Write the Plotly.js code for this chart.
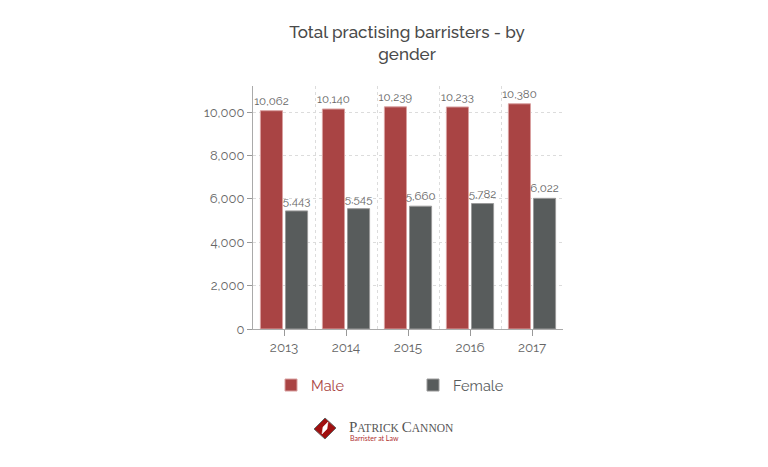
<!DOCTYPE html>
<html>
<head>
<meta charset="utf-8">
<script src="https://cdn.plot.ly/plotly-3.0.1.min.js"></script>
<style>html,body{margin:0;padding:0;background:#fff;}#chart{width:768px;height:467px;}</style>
</head>
<body>
<div id="chart"></div>
<script>
const years = ['2013', '2014', '2015', '2016', '2017'];
const male = [10062, 10140, 10239, 10233, 10380];
const female = [5443, 5545, 5660, 5782, 6022];
const yTicks = [0, 2000, 4000, 6000, 8000, 10000];
const boundaries = [0.5, 1.5, 2.5, 3.5, 4.5];

const FONT = 'Raleway, Lato, "Open Sans", sans-serif';
const MALE_C = '#a94444';
const FEMALE_C = '#585c5c';

const fmt = v => v.toLocaleString('en-US');

// plot area in pixels (for placing the logo)
const PL = 253, PR = 563, PT = 86, PB = 329;
const px = x => (x - PL) / (PR - PL);
const py = y => (PB - y) / (PB - PT);
const pathFrom = pts => pts.map((p, i) => (i ? 'L ' : 'M ') + px(p[0]).toFixed(4) + ' ' + py(p[1]).toFixed(4)).join(' ') + ' Z';

const traces = [
  {
    type: 'bar', x: years, y: male,
    name: '<span style="color:' + MALE_C + '">Male</span>',
    marker: {color: MALE_C, line: {color: '#d9a0a0', width: 1}},
    text: male.map(fmt), textposition: 'outside', cliponaxis: false, constraintext: 'none',
    textfont: {family: FONT, size: 11.5, color: '#666'},
    hoverinfo: 'none', legend: 'legend'
  },
  {
    type: 'bar', x: years, y: female,
    name: '<span style="color:' + FEMALE_C + '">Female</span>',
    marker: {color: FEMALE_C, line: {color: '#9a9a9a', width: 1}},
    text: female.map(fmt), textposition: 'outside', cliponaxis: false, constraintext: 'none',
    textfont: {family: FONT, size: 11.5, color: '#666'},
    hoverinfo: 'none', legend: 'legend2'
  },
  {
    type: 'scatter', x: [0], y: [0], xaxis: 'x2', mode: 'markers',
    marker: {opacity: 0}, showlegend: false, hoverinfo: 'none'
  }
];

const legendBase = {
  orientation: 'h', xanchor: 'left', y: -0.165, yanchor: 'top',
  font: {family: FONT, size: 14.5},
  bgcolor: 'rgba(0,0,0,0)',
  itemclick: false, itemdoubleclick: false
};

const layout = {
  width: 768, height: 467,
  margin: {l: PL, r: 768 - PR, t: PT, b: 467 - PB},
  paper_bgcolor: '#fff', plot_bgcolor: '#fff',
  font: {family: FONT, color: '#666'},
  title: {
    text: 'Total practising barristers - by<br>gender',
    font: {family: FONT, size: 17, color: '#4a4a4a', weight: 500},
    x: 0.53, xanchor: 'center', y: 0.918, yanchor: 'top'
  },
  bargap: 0.19, bargroupgap: 0.12, barmode: 'group',
  xaxis: {
    type: 'category', showgrid: false,
    showline: true, linecolor: '#aaa', linewidth: 1,
    ticks: 'outside', ticklen: 6, tickcolor: '#999',
    tickfont: {family: FONT, size: 13.5, color: '#666'},
    zeroline: false, fixedrange: true
  },
  xaxis2: {
    overlaying: 'x', range: [-0.5, 4.5], tickvals: boundaries,
    showgrid: true, gridcolor: '#dcdcdc', griddash: 'dot', gridwidth: 1,
    showticklabels: false, ticks: '', showline: false, zeroline: false
  },
  yaxis: {
    range: [0, 11200], tickvals: yTicks, ticktext: yTicks.map(fmt),
    showgrid: true, gridcolor: '#dcdcdc', griddash: 'dot', gridwidth: 1,
    showline: true, linecolor: '#aaa', linewidth: 1,
    ticks: 'outside', ticklen: 5, tickcolor: '#999',
    tickfont: {family: FONT, size: 13, color: '#666'},
    zeroline: false, fixedrange: true
  },
  showlegend: true,
  legend: Object.assign({}, legendBase, {x: px(271)}),
  legend2: Object.assign({}, legendBase, {x: px(413)}),
  shapes: [
    {
      type: 'path', xref: 'paper', yref: 'paper', layer: 'above',
      path: pathFrom([[314, 429], [325, 418], [336, 428], [325, 439]]),
      fillcolor: '#a01010', line: {color: '#666', width: 1}
    },
    {
      type: 'path', xref: 'paper', yref: 'paper', layer: 'above',
      path: pathFrom([[322, 434], [323, 427], [328, 422], [327, 429]]),
      fillcolor: '#ffffff', line: {color: '#ffffff', width: 0.5}
    }
  ],
  annotations: [
    {
      xref: 'paper', yref: 'paper', x: px(347), y: py(427),
      xanchor: 'left', yanchor: 'middle', showarrow: false,
      text: '<span style="font-size:15px">P</span>ATRICK <span style="font-size:15px">C</span>ANNON',
      font: {family: '"Liberation Serif", "DejaVu Serif", serif', size: 11.5, color: '#555'}
    },
    {
      xref: 'paper', yref: 'paper', x: px(348), y: py(438),
      xanchor: 'left', yanchor: 'middle', showarrow: false,
      text: 'Barrister at Law',
      font: {family: 'Lato, sans-serif', size: 7, color: '#b03030'}
    }
  ]
};

Plotly.newPlot('chart', traces, layout, {displayModeBar: false, staticPlot: true});
</script>
</body>
</html>
